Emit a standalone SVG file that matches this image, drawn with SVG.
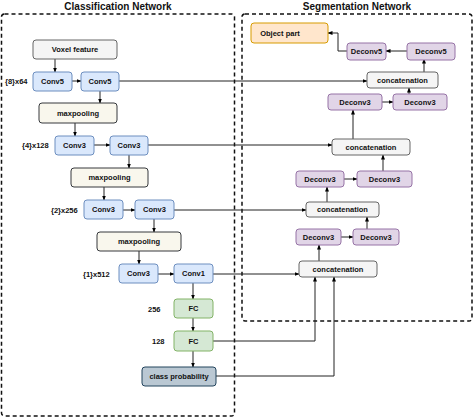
<svg xmlns="http://www.w3.org/2000/svg" width="474" height="418" viewBox="0 0 474 418">
<defs>
<marker id="ah" viewBox="0 0 10 10" refX="9" refY="5" markerWidth="5" markerHeight="5" orient="auto-start-reverse" markerUnits="userSpaceOnUse">
<path d="M0,1 L10,5 L0,9 Z" fill="#000"/>
</marker>
<style>
text{font-family:"Liberation Sans",Arial,sans-serif;font-weight:bold;font-size:7.5px;fill:#111;text-anchor:middle;dominant-baseline:central}
.title{font-size:10px}
.lab{text-anchor:start}
.frame{fill:none;stroke:#111;stroke-width:1.5;stroke-dasharray:4 3}
rect{rx:3;ry:3;stroke-width:1}
.blue{fill:#dae8fc;stroke:#6c8ebf}
.beige{fill:#f9f7ed;stroke:#36393d}
.gray{fill:#f5f5f5;stroke:#666}
.green{fill:#d5e8d4;stroke:#82b366}
.slate{fill:#bac8d3;stroke:#23445d}
.purple{fill:#e1d5e7;stroke:#9673a6}
.orange{fill:#ffe6cc;stroke:#d79b00}
.c{fill:none;stroke:#222;stroke-width:1;marker-end:url(#ah)}
</style>
</defs>
<rect x="0" y="0" width="474" height="418" fill="#fff" rx="0" ry="0" stroke="none"/>
<text class="title" x="118" y="6">Classification Network</text>
<text class="title" x="357" y="6">Segmentation Network</text>
<rect class="frame" x="1.5" y="14" width="233" height="402" rx="0" ry="0"/>
<rect class="frame" x="242" y="14" width="230" height="307" rx="0" ry="0"/>

<g id="connectors">
<path class="c" d="M55,59 V72"/>
<path class="c" d="M72,81 H81"/>
<path class="c" d="M119,81 H367"/>
<path class="c" d="M100,91 V103"/>
<path class="c" d="M75,123 V136"/>
<path class="c" d="M94,145 H110"/>
<path class="c" d="M148,145 H332"/>
<path class="c" d="M129,155 V168"/>
<path class="c" d="M104,187 V200"/>
<path class="c" d="M123,210 H135"/>
<path class="c" d="M174,210 H306"/>
<path class="c" d="M154,219 V232"/>
<path class="c" d="M139,251 V264"/>
<path class="c" d="M158,274 H174"/>
<path class="c" d="M213,274 H299"/>
<path class="c" d="M193,283 V299"/>
<path class="c" d="M193,318 V331"/>
<path class="c" d="M193,351 V367"/>
<path class="c" d="M213,341 H315 V277"/>
<path class="c" d="M216,376 H334 V277"/>
<path class="c" d="M319,261 V245"/>
<path class="c" d="M341,237 H353"/>
<path class="c" d="M367,229 V217"/>
<path class="c" d="M327,203 V187"/>
<path class="c" d="M344,179 H357"/>
<path class="c" d="M383,171 V155"/>
<path class="c" d="M353,139 V110"/>
<path class="c" d="M382,102 H393"/>
<path class="c" d="M409,94 V88"/>
<path class="c" d="M424,72 V59"/>
<path class="c" d="M407,51 H386"/>
<path class="c" d="M347,51 H338 V33 H328"/>
</g>

<text class="lab" x="5" y="81">{8}x64</text>
<text class="lab" x="22" y="145">{4}x128</text>
<text class="lab" x="51" y="210">{2}x256</text>
<text class="lab" x="83" y="274">{1}x512</text>
<text class="lab" x="148" y="309">256</text>
<text class="lab" x="152" y="341">128</text>

<g id="voxel"><rect class="gray" x="33" y="40" width="84" height="19"/><text x="75" y="49.5">Voxel feature</text></g>
<g id="conv5a"><rect class="blue" x="33" y="72" width="39" height="19"/><text x="52.5" y="81.5">Conv5</text></g>
<g id="conv5b"><rect class="blue" x="81" y="72" width="38" height="19"/><text x="100" y="81.5">Conv5</text></g>
<g id="pool1"><rect class="beige" x="39" y="103" width="78" height="20"/><text x="78" y="113">maxpooling</text></g>
<g id="conv3a"><rect class="blue" x="55" y="136" width="39" height="19"/><text x="74.5" y="145.5">Conv3</text></g>
<g id="conv3b"><rect class="blue" x="110" y="136" width="38" height="19"/><text x="129" y="145.5">Conv3</text></g>
<g id="pool2"><rect class="beige" x="71" y="168" width="77" height="19"/><text x="109.5" y="177.5">maxpooling</text></g>
<g id="conv3c"><rect class="blue" x="84" y="200" width="39" height="19"/><text x="103.5" y="209.5">Conv3</text></g>
<g id="conv3d"><rect class="blue" x="135" y="200" width="39" height="19"/><text x="154.5" y="209.5">Conv3</text></g>
<g id="pool3"><rect class="beige" x="97" y="232" width="84" height="19"/><text x="139" y="241.5">maxpooling</text></g>
<g id="conv3e"><rect class="blue" x="119" y="264" width="39" height="19"/><text x="138.5" y="273.5">Conv3</text></g>
<g id="conv1"><rect class="blue" x="174" y="264" width="39" height="19"/><text x="193.5" y="273.5">Conv1</text></g>
<g id="fc1"><rect class="green" x="174" y="299" width="39" height="19"/><text x="193.5" y="308.5">FC</text></g>
<g id="fc2"><rect class="green" x="174" y="331" width="39" height="20"/><text x="193.5" y="341">FC</text></g>
<g id="classprob"><rect class="slate" x="142" y="367" width="74" height="19"/><text x="179" y="376.5">class probability</text></g>

<g id="objectpart"><rect class="orange" x="251" y="23" width="77" height="20"/><text x="280" y="33">Object part</text></g>
<g id="deconv5a"><rect class="purple" x="347" y="43" width="39" height="17"/><text x="366.5" y="51.5">Deconv5</text></g>
<g id="deconv5b"><rect class="purple" x="407" y="43" width="48" height="17"/><text x="431" y="51.5">Deconv5</text></g>
<g id="concat1"><rect class="gray" x="367" y="72" width="71" height="16"/><text x="402.5" y="80">concatenation</text></g>
<g id="deconv3a"><rect class="purple" x="328" y="94" width="54" height="16"/><text x="355" y="102">Deconv3</text></g>
<g id="deconv3b"><rect class="purple" x="393" y="94" width="54" height="16"/><text x="420" y="102">Deconv3</text></g>
<g id="concat2"><rect class="gray" x="332" y="139" width="78" height="16"/><text x="371" y="147">concatenation</text></g>
<g id="deconv3c"><rect class="purple" x="296" y="171" width="48" height="16"/><text x="320" y="179">Deconv3</text></g>
<g id="deconv3d"><rect class="purple" x="357" y="171" width="55" height="16"/><text x="384.5" y="179">Deconv3</text></g>
<g id="concat3"><rect class="gray" x="306" y="202" width="73" height="15"/><text x="342.5" y="209.5">concatenation</text></g>
<g id="deconv3e"><rect class="purple" x="296" y="229" width="45" height="16"/><text x="318.5" y="237">Deconv3</text></g>
<g id="deconv3f"><rect class="purple" x="353" y="229" width="46" height="16"/><text x="376" y="237">Deconv3</text></g>
<g id="concat4"><rect class="gray" x="299" y="261" width="78" height="16"/><text x="338" y="269">concatenation</text></g>
</svg>
